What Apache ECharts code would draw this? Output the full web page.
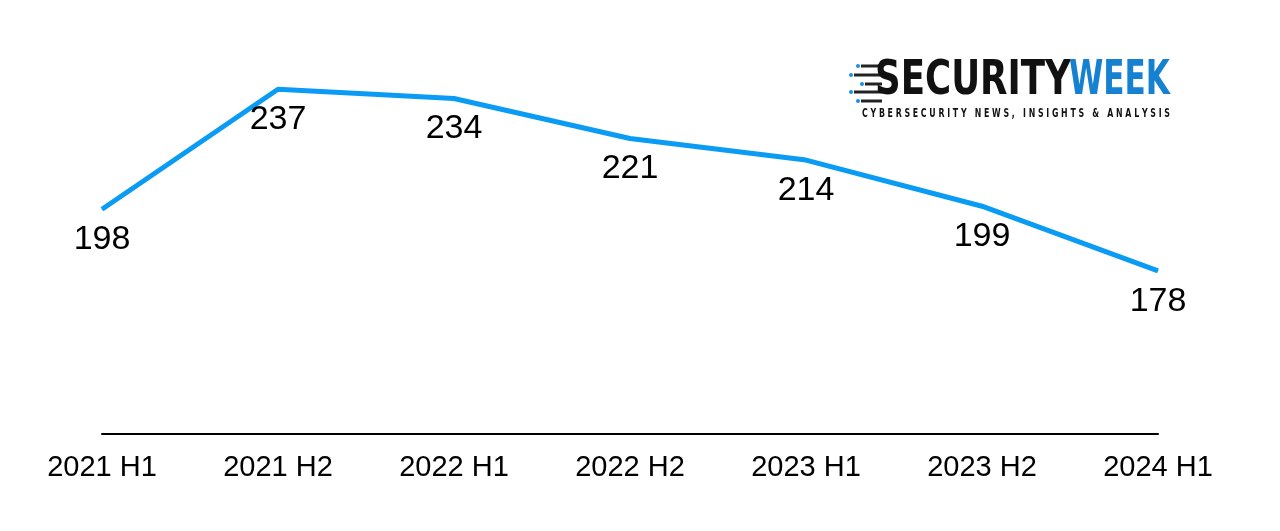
<!DOCTYPE html>
<html><head><meta charset="utf-8">
<script src="https://cdn.jsdelivr.net/npm/echarts@6/dist/echarts.min.js"></script>
<style>html,body{margin:0;padding:0;background:#fff}#c{width:1280px;height:531px}</style>
</head><body><div id="c"></div>
<script>
var categories = ['2021 H1','2021 H2','2022 H1','2022 H2','2023 H1','2023 H2','2024 H1'];
var values = [198, 237, 234, 221, 214, 199, 178];

var chart = echarts.init(document.getElementById('c'));
var font = '"Liberation Sans", Arial, Helvetica, sans-serif';
var dots = [];
[[858,66],[851,75],[862,84],[851,92],[858,101]].forEach(function(p){
  dots.push({type:'line', shape:{x1:p[0]+3, y1:p[1], x2:882, y2:p[1]}, style:{stroke:'#222', lineWidth:3}});
  dots.push({type:'circle', shape:{cx:p[0], cy:p[1], r:2}, style:{fill:'#1a8fe0'}});
});
chart.setOption({
  animation:false,
  grid:{left:102, right:122, top:40, bottom:97, containLabel:false},
  xAxis:{type:'category', data:categories, boundaryGap:false,
    axisLine:{show:true, lineStyle:{color:'#000', width:2}},
    axisTick:{show:false},
    axisLabel:{color:'#000', fontSize:29, fontFamily:font, margin:19}},
  yAxis:{type:'value', min:125, max:253, show:false, splitLine:{show:false}},
  series:[{type:'line', data:values, symbol:'circle', symbolSize:1, showSymbol:true,
    itemStyle:{color:'#0a9cf5'},
    lineStyle:{color:'#0a9cf5', width:5},
    label:{show:true, position:'bottom', distance:13, color:'#000', fontSize:34, fontFamily:font}}],
  graphic: dots.concat([
    {type:'text', left:875, top:58, scaleX:0.825, style:{text:'SECURITY', fill:'#111', font:'900 48px "DejaVu Sans Condensed", "Liberation Sans Narrow", sans-serif'}},
    {type:'text', left:1069, top:58, scaleX:0.72, style:{text:'WEEK', fill:'#1581d0', font:'900 48px "DejaVu Sans Condensed", "Liberation Sans Narrow", sans-serif'}},
    {type:'text', left:862, top:107, scaleX:0.67, style:{text:'C Y B E R S E C U R I T Y   N E W S ,   I N S I G H T S   &   A N A L Y S I S', fill:'#111', font:'bold 13px "DejaVu Sans Condensed", sans-serif'}}
  ])
});
</script></body></html>
